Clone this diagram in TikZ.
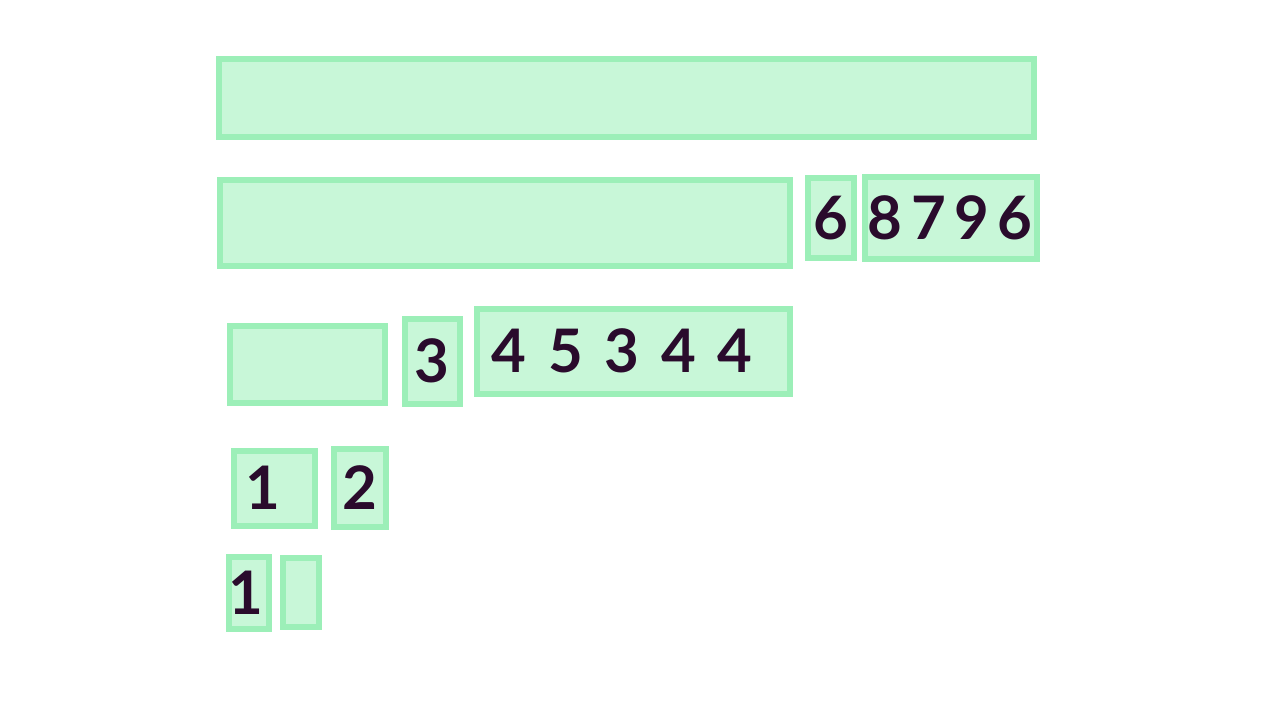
\documentclass[tikz,border=0pt]{standalone}
\usepackage{fontspec}
\setmainfont{Lato}
\definecolor{mintfill}{HTML}{C8F7D8}
\definecolor{mintline}{HTML}{9CEFB8}
\definecolor{ink}{HTML}{2A0B2C}
\tikzset{
  box/.style={draw=mintline, fill=mintfill, line width=6pt, inner sep=0pt, text=ink,
    font=\fontsize{60}{60}\selectfont\bfseries},
  wide/.style={font=\fontsize{60}{60}\selectfont\bfseries\addfontfeature{LetterSpace=#1}}
}
\begin{document}
\begin{tikzpicture}[x=1pt,y=-1pt]
\useasboundingbox[fill=white] (0,0) rectangle (1280,720);
% row 1
\node[box, minimum width=815, minimum height=78] (r1) at (626,98) {};
% row 2
\node[box, minimum width=570, minimum height=86] (r2a) at (505,223) {};
\node[box, minimum width=46, minimum height=80] (r2b) at (831,218) {6};
\node[box, wide=14, minimum width=172, minimum height=82] (r2c) at (951,218) {8796\kern2pt};
% row 3
\node[box, minimum width=155, minimum height=77] (r3a) at (307,364) {};
\node[box, minimum width=55, minimum height=85] (r3b) at (432,361) {3};
\node[box, wide=36, minimum width=313, minimum height=85] (r3c) at (633,351) {45344\kern22pt};
% row 4
\node[box, minimum width=81, minimum height=75] (r4a) at (274,488) {1\kern22pt};
\node[box, minimum width=52, minimum height=78] (r4b) at (360,488) {2};
% row 5
\node[box, minimum width=38, minimum height=72] (r5a) at (249,593) {1\kern6pt};
\node[box, minimum width=36, minimum height=69] (r5b) at (301,592) {};
\end{tikzpicture}
\end{document}
